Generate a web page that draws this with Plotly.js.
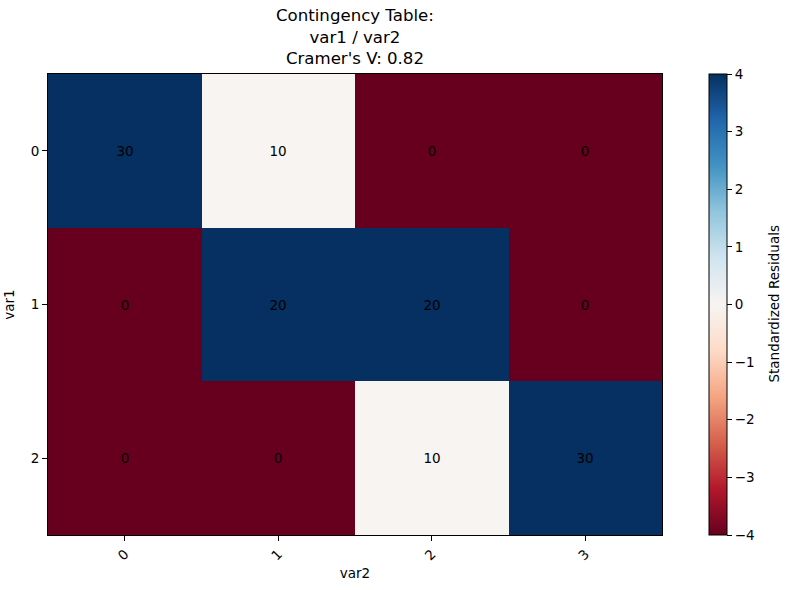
<!DOCTYPE html>
<html>
<head>
<meta charset="utf-8">
<script src="https://cdn.plot.ly/plotly-3.0.1.min.js"></script>
<style>html,body{margin:0;padding:0;background:#fff;}#chart{width:791px;height:590px;}</style>
</head>
<body>
<div id="chart"></div>
<script>
// Observed counts (cell annotations)
const rowLabels = ['0', '1', '2'];
const colLabels = ['0', '1', '2', '3'];
const counts = [
  [30, 10, 0, 0],
  [0, 20, 20, 0],
  [0, 0, 10, 30]
];
// Adjusted standardized residuals (colour values)
const residuals = [
  [8.94, 0.0, -4.47, -4.47],
  [-4.47, 4.47, 4.47, -4.47],
  [-4.47, -4.47, 0.0, 8.94]
];
const cramersV = 0.82;
const colorTicks = [-4, -3, -2, -1, 0, 1, 2, 3, 4];
const colorTickText = ['\u22124', '\u22123', '\u22122', '\u22121', '0', '1', '2', '3', '4'];

const rdbu = ['#67001f', '#b2182b', '#d6604d', '#f4a582', '#fddbc7', '#f7f4f1', '#d1e5f0', '#92c5de', '#4393c3', '#2166ac', '#053061'];
const colorscale = rdbu.map((c, i) => [i / (rdbu.length - 1), c]);

const font = {family: 'DejaVu Sans', size: 13.5, color: '#000'};

const trace = {
  type: 'heatmap',
  x: colLabels,
  y: rowLabels,
  z: residuals,
  text: counts.map(r => r.map(String)),
  texttemplate: '%{text}',
  textfont: {family: 'DejaVu Sans', size: 13.5, color: '#000'},
  zmin: -4, zmax: 4,
  colorscale: colorscale,
  xgap: 0, ygap: 0,
  hoverinfo: 'skip',
  colorbar: {
    x: 1.0765, xanchor: 'left', xpad: 0,
    y: 0.5, yanchor: 'middle', ypad: 0,
    len: 1, lenmode: 'fraction',
    thickness: 18, thicknessmode: 'pixels',
    outlinewidth: 1, outlinecolor: '#000',
    tickmode: 'array', tickvals: colorTicks, ticktext: colorTickText,
    ticks: 'outside', ticklen: 5, tickwidth: 1, tickcolor: '#000',
    tickfont: font
  }
};

const layout = {
  width: 791, height: 590,
  margin: {l: 48, r: 129, t: 74, b: 55, pad: 0},
  paper_bgcolor: '#fff', plot_bgcolor: '#fff',
  font: font,
  annotations: [{
    text: 'Contingency Table:<br>var1 / var2<br>Cramer\'s V: ' + cramersV.toFixed(2),
    xref: 'paper', yref: 'paper',
    x: 0.5, y: 1, xanchor: 'center', yanchor: 'bottom', yshift: 4,
    align: 'center', showarrow: false,
    font: {family: 'DejaVu Sans', size: 16.6, color: '#000'}
  }, {
    text: 'Standardized Residuals',
    xref: 'paper', yref: 'paper',
    x: 1.1808, y: 0.5, xanchor: 'center', yanchor: 'middle',
    textangle: -90, showarrow: false,
    font: font
  }],
  xaxis: {
    type: 'category',
    tickmode: 'array', tickvals: colLabels, ticktext: colLabels,
    tickangle: -45,
    ticks: 'outside', ticklen: 5, tickwidth: 1, tickcolor: '#000',
    showline: true, mirror: true, linecolor: '#000', linewidth: 1,
    showgrid: false, zeroline: false,
    tickfont: font,
    title: {text: 'var2', font: font, standoff: 6}
  },
  yaxis: {
    type: 'category',
    autorange: 'reversed',
    tickmode: 'array', tickvals: rowLabels, ticktext: rowLabels,
    ticks: 'outside', ticklen: 5, tickwidth: 1, tickcolor: '#000',
    showline: true, mirror: true, linecolor: '#000', linewidth: 1,
    showgrid: false, zeroline: false,
    tickfont: font,
    title: {text: 'var1', font: font, standoff: 12}
  }
};

Plotly.newPlot('chart', [trace], layout, {displayModeBar: false, staticPlot: true});
</script>
</body>
</html>
